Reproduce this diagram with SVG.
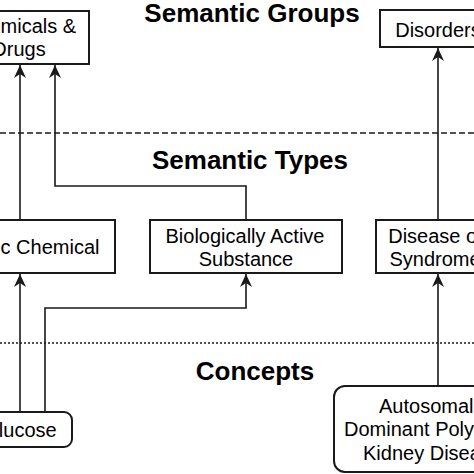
<svg xmlns="http://www.w3.org/2000/svg" width="474" height="474" viewBox="0 0 474 474">
<style>
.box{fill:#fff;stroke:#1a1a1a;stroke-width:2}
.t{font-family:"Liberation Sans",Arial,sans-serif;font-size:20px;fill:#000;text-anchor:middle}
.h{font-family:"Liberation Sans",Arial,sans-serif;font-size:26px;font-weight:bold;fill:#000;text-anchor:middle}
.c{fill:none;stroke:#1a1a1a;stroke-width:1.6}
.sep{fill:none;stroke:#1a1a1a;stroke-width:1.5}
</style>
<defs>
<marker id="arr" markerUnits="userSpaceOnUse" markerWidth="16" markerHeight="14" viewBox="-14 -7 16 14" refX="0" refY="0" orient="auto">
<path d="M0,0 L-13,-6 L-9,0 L-13,6 Z" fill="#1a1a1a"/>
</marker>
</defs>
<rect width="474" height="474" fill="#fff"/>
<g id="separators">
<line class="sep" x1="0" y1="133" x2="474" y2="133" stroke-dasharray="6 3"/>
<line class="sep" x1="0" y1="343" x2="474" y2="343" stroke-dasharray="2 2"/>
</g>
<g id="headings">
<text class="h" x="252" y="22">Semantic Groups</text>
<text class="h" x="250" y="169">Semantic Types</text>
<text class="h" x="255" y="380">Concepts</text>
</g>
<g id="connectors">
<path class="c" d="M20,220 V65" marker-end="url(#arr)"/>
<path class="c" d="M246,220 V186 H55 V65" marker-end="url(#arr)"/>
<path class="c" d="M438,220 V48" marker-end="url(#arr)"/>
<path class="c" d="M20,412 V274" marker-end="url(#arr)"/>
<path class="c" d="M45,412 V308 H246 V274" marker-end="url(#arr)"/>
<path class="c" d="M438,386 V274" marker-end="url(#arr)"/>
</g>
<g id="chemicals-drugs">
<rect class="box" x="-49" y="11" width="138" height="53"/>
<text class="t" x="20" y="33">Chemicals &amp;</text>
<text class="t" x="19" y="56">Drugs</text>
</g>
<g id="disorders">
<rect class="box" x="380" y="10" width="116" height="37"/>
<text class="t" x="438" y="37">Disorders</text>
</g>
<g id="organic-chemical">
<rect class="box" x="-74" y="220" width="189" height="53"/>
<text class="t" x="20" y="254">Organic Chemical</text>
</g>
<g id="biologically-active-substance">
<rect class="box" x="150" y="220" width="192" height="53"/>
<text class="t" x="245" y="243">Biologically Active</text>
<text class="t" x="246" y="266">Substance</text>
</g>
<g id="disease-or-syndrome">
<rect class="box" x="376" y="220" width="124" height="53"/>
<text class="t" x="436" y="243">Disease or</text>
<text class="t" x="435" y="266">Syndrome</text>
</g>
<g id="glucose">
<rect class="box" x="-32" y="412" width="104" height="35" rx="8"/>
<text class="t" x="20" y="437">Glucose</text>
</g>
<g id="adpkd">
<rect class="box" x="334" y="386" width="208" height="86" rx="11"/>
<text class="t" style="text-anchor:start" x="379" y="413">Autosomal</text>
<text class="t" style="text-anchor:start" x="344" y="436">Dominant Polycystic</text>
<text class="t" style="text-anchor:start" x="363" y="460">Kidney Disease</text>
</g>
</svg>
